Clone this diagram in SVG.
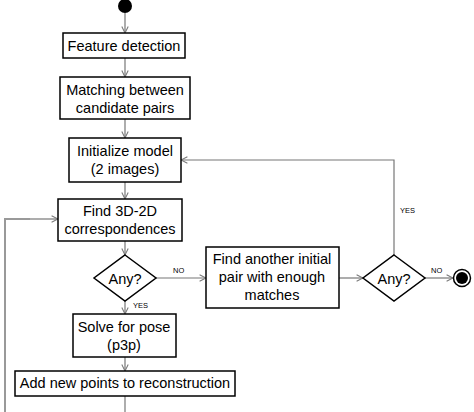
<svg xmlns="http://www.w3.org/2000/svg" width="474" height="412" viewBox="0 0 474 412">
<style>
.box{fill:#fff;stroke:#000;stroke-width:1.5}
.t{font-family:"Liberation Sans",Arial,sans-serif;font-size:14.5px;fill:#000;text-anchor:middle}
.s{font-family:"Liberation Sans",Arial,sans-serif;font-size:7.5px;fill:#000}
.c{fill:none;stroke:#777;stroke-width:1.2}
</style>
<defs>
<marker id="a" viewBox="0 0 10 10" refX="9" refY="5" markerWidth="8" markerHeight="8" orient="auto" markerUnits="userSpaceOnUse">
<path d="M1,1 L9,5 L1,9" fill="none" stroke="#777" stroke-width="1.3"/>
</marker>
</defs>
<g id="connectors">
<line class="c" x1="125" y1="13" x2="125" y2="33" marker-end="url(#a)"/>
<line class="c" x1="125" y1="58" x2="125" y2="77" marker-end="url(#a)"/>
<line class="c" x1="125" y1="119" x2="125" y2="138" marker-end="url(#a)"/>
<line class="c" x1="125" y1="182" x2="125" y2="199" marker-end="url(#a)"/>
<line class="c" x1="125" y1="241" x2="125" y2="255" marker-end="url(#a)"/>
<line class="c" x1="125" y1="301" x2="125" y2="314" marker-end="url(#a)"/>
<line class="c" x1="125" y1="357" x2="125" y2="371" marker-end="url(#a)"/>
<line class="c" x1="125" y1="396" x2="125" y2="412"/>
<line class="c" x1="156" y1="278" x2="206" y2="278" marker-end="url(#a)"/>
<line class="c" x1="339" y1="278" x2="363" y2="278" marker-end="url(#a)"/>
<line class="c" x1="425" y1="278" x2="453" y2="278" marker-end="url(#a)"/>
<polyline class="c" points="394,255 394,160 181,160" marker-end="url(#a)"/>
<polyline points="5,412 5,219 30,219" fill="none" stroke="#999" stroke-width="2"/>
<line class="c" x1="30" y1="219" x2="58" y2="219" marker-end="url(#a)"/>
<text class="s" x="173" y="273">NO</text>
<text class="s" x="133" y="308">YES</text>
<text class="s" x="400" y="213">YES</text>
<text class="s" x="431" y="273">NO</text>
</g>
<g id="start"><circle cx="125" cy="6" r="7" fill="#000"/></g>
<g id="feature"><rect class="box" x="63" y="33" width="122" height="25"/><text class="t" x="124" y="51">Feature detection</text></g>
<g id="matching"><rect class="box" x="60" y="77" width="130" height="42"/><text class="t" x="125" y="95">Matching between</text><text class="t" x="125" y="113">candidate pairs</text></g>
<g id="init"><rect class="box" x="69" y="138" width="112" height="44"/><text class="t" x="125" y="156">Initialize model</text><text class="t" x="125" y="174">(2 images)</text></g>
<g id="find3d"><rect class="box" x="58" y="199" width="124" height="42"/><text class="t" x="120" y="216">Find 3D-2D</text><text class="t" x="120" y="234">correspondences</text></g>
<g id="any1"><polygon class="box" points="125,255 156,278 125,301 94,278"/><text class="t" x="125" y="284">Any?</text></g>
<g id="findanother"><rect class="box" x="206" y="247" width="133" height="61"/><text class="t" x="272" y="264">Find another initial</text><text class="t" x="272" y="282">pair with enough</text><text class="t" x="272" y="300">matches</text></g>
<g id="any2"><polygon class="box" points="394,255 425,278 394,301 363,278"/><text class="t" x="394" y="284">Any?</text></g>
<g id="end"><circle cx="462" cy="278" r="8.5" fill="#fff" stroke="#000" stroke-width="1.5"/><circle cx="462" cy="278" r="6" fill="#000"/></g>
<g id="solve"><rect class="box" x="73" y="314" width="103" height="43"/><text class="t" x="124" y="332">Solve for pose</text><text class="t" x="124" y="350">(p3p)</text></g>
<g id="addpoints"><rect class="box" x="15" y="371" width="220" height="25"/><text class="t" x="125" y="388">Add new points to reconstruction</text></g>
</svg>
